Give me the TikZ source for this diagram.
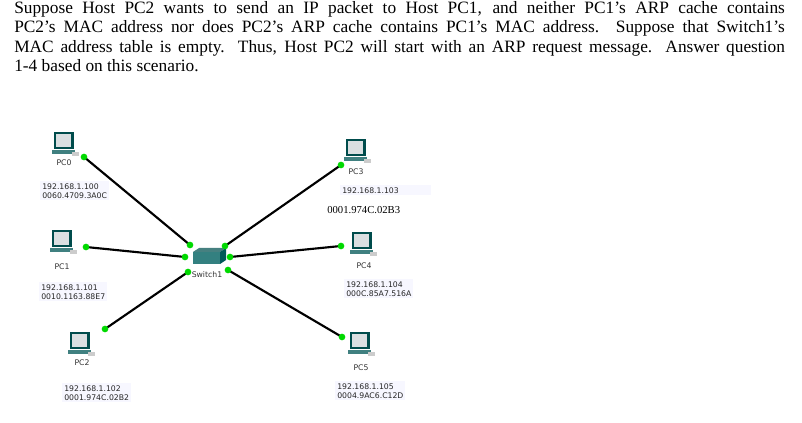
\documentclass[tikz,border=0pt]{standalone}
\usepackage{fontspec}
\setmainfont{Liberation Serif}
\newfontfamily\tahoma{DejaVu Sans}
\begin{document}
\begin{tikzpicture}[x=0.75pt,y=-0.75pt,
  lnk/.style={line width=1.6pt,black},
  dot/.style={circle,fill=green!85!black,inner sep=0pt,minimum size=5pt},
  lbl/.style={font=\tahoma\fontsize{5.8}{6.5}\selectfont,text=black!80,inner sep=1pt},
  addr/.style={font=\tahoma\fontsize{5.8}{6.8}\selectfont,fill=blue!3,align=left,anchor=north west,inner sep=1.5pt,text=black!85},
  pc/.pic={
    \fill[teal!60!black] (-10,-11) rectangle (10,6);
    \fill[cyan!12!gray!30] (-8,-9) rectangle (7,4);
    \fill[teal!50!gray] (-12,7) rectangle (11,11);
    \fill[gray!40] (8,9) rectangle (15,13);
  }]
\useasboundingbox (0,0) rectangle (802,423);
\node[anchor=north west,text width=578pt,align=justify,inner sep=0pt,font=\fontsize{13}{14.6}\selectfont] (txt) at (14,1)
{Suppose Host PC2 wants to send an IP packet to Host PC1, and neither PC1's ARP cache contains\linebreak PC2's MAC address nor does PC2's ARP cache contains PC1's MAC address. Suppose that Switch1's\linebreak MAC address table is empty. Thus, Host PC2 will start with an ARP request message. Answer question\linebreak 1-4 based on this scenario.};
% links
\coordinate (s0) at (190,245); \coordinate (s3) at (225,246);
\coordinate (s1) at (185,257); \coordinate (s4) at (230,257);
\coordinate (s2) at (188,272); \coordinate (s5) at (228,270);
\coordinate (p0) at (84,157); \coordinate (p3) at (341,165);
\coordinate (p1) at (86,247); \coordinate (p4) at (341,246);
\coordinate (p2) at (105,329); \coordinate (p5) at (342,337);
\draw[lnk] (p0)--(s0) (p1)--(s1) (p2)--(s2) (p3)--(s3) (p4)--(s4) (p5)--(s5);
% PCs
\pic at (64,143) {pc}; \pic at (356,150) {pc}; \pic at (62,241) {pc};
\pic at (362,243) {pc}; \pic at (80,343) {pc}; \pic at (360,343) {pc};
% switch
\fill[teal!45!gray] (193,252) -- (199,248) -- (226,248) -- (220,252) -- cycle;
\fill[teal!60!gray] (193,252) rectangle (220,264);
\fill[teal!70!black] (220,252) -- (226,248) -- (226,260) -- (220,264) -- cycle;
\foreach \c in {s0,s1,s2,s3,s4,s5,p0,p1,p2,p3,p4,p5} \node[dot] at (\c) {};
\node[lbl] (sw) at (207,275) {Switch1};
\node[lbl] (n0) at (64,163) {PC0};
\node[lbl] (n1) at (62,267) {PC1};
\node[lbl] (n2) at (82,363) {PC2};
\node[lbl] (n3) at (356,172) {PC3};
\node[lbl] (n4) at (364,266) {PC4};
\node[lbl] (n5) at (361,368) {PC5};
\node[addr] (a0) at (40,181) {192.168.1.100\\0060.4709.3A0C};
\node[addr] (a1) at (39,282) {192.168.1.101\\0010.1163.88E7};
\node[addr] (a2) at (62,383) {192.168.1.102\\0001.974C.02B2};
\node[addr,text width=65] (a3) at (340,185) {192.168.1.103};
\node[anchor=west,font=\fontsize{8}{9}\selectfont,inner sep=0pt] (m3) at (327,210) {0001.974C.02B3};
\node[addr] (a4) at (344,279) {192.168.1.104\\000C.85A7.516A};
\node[addr] (a5) at (335,381) {192.168.1.105\\0004.9AC6.C12D};
\end{tikzpicture}
\end{document}
